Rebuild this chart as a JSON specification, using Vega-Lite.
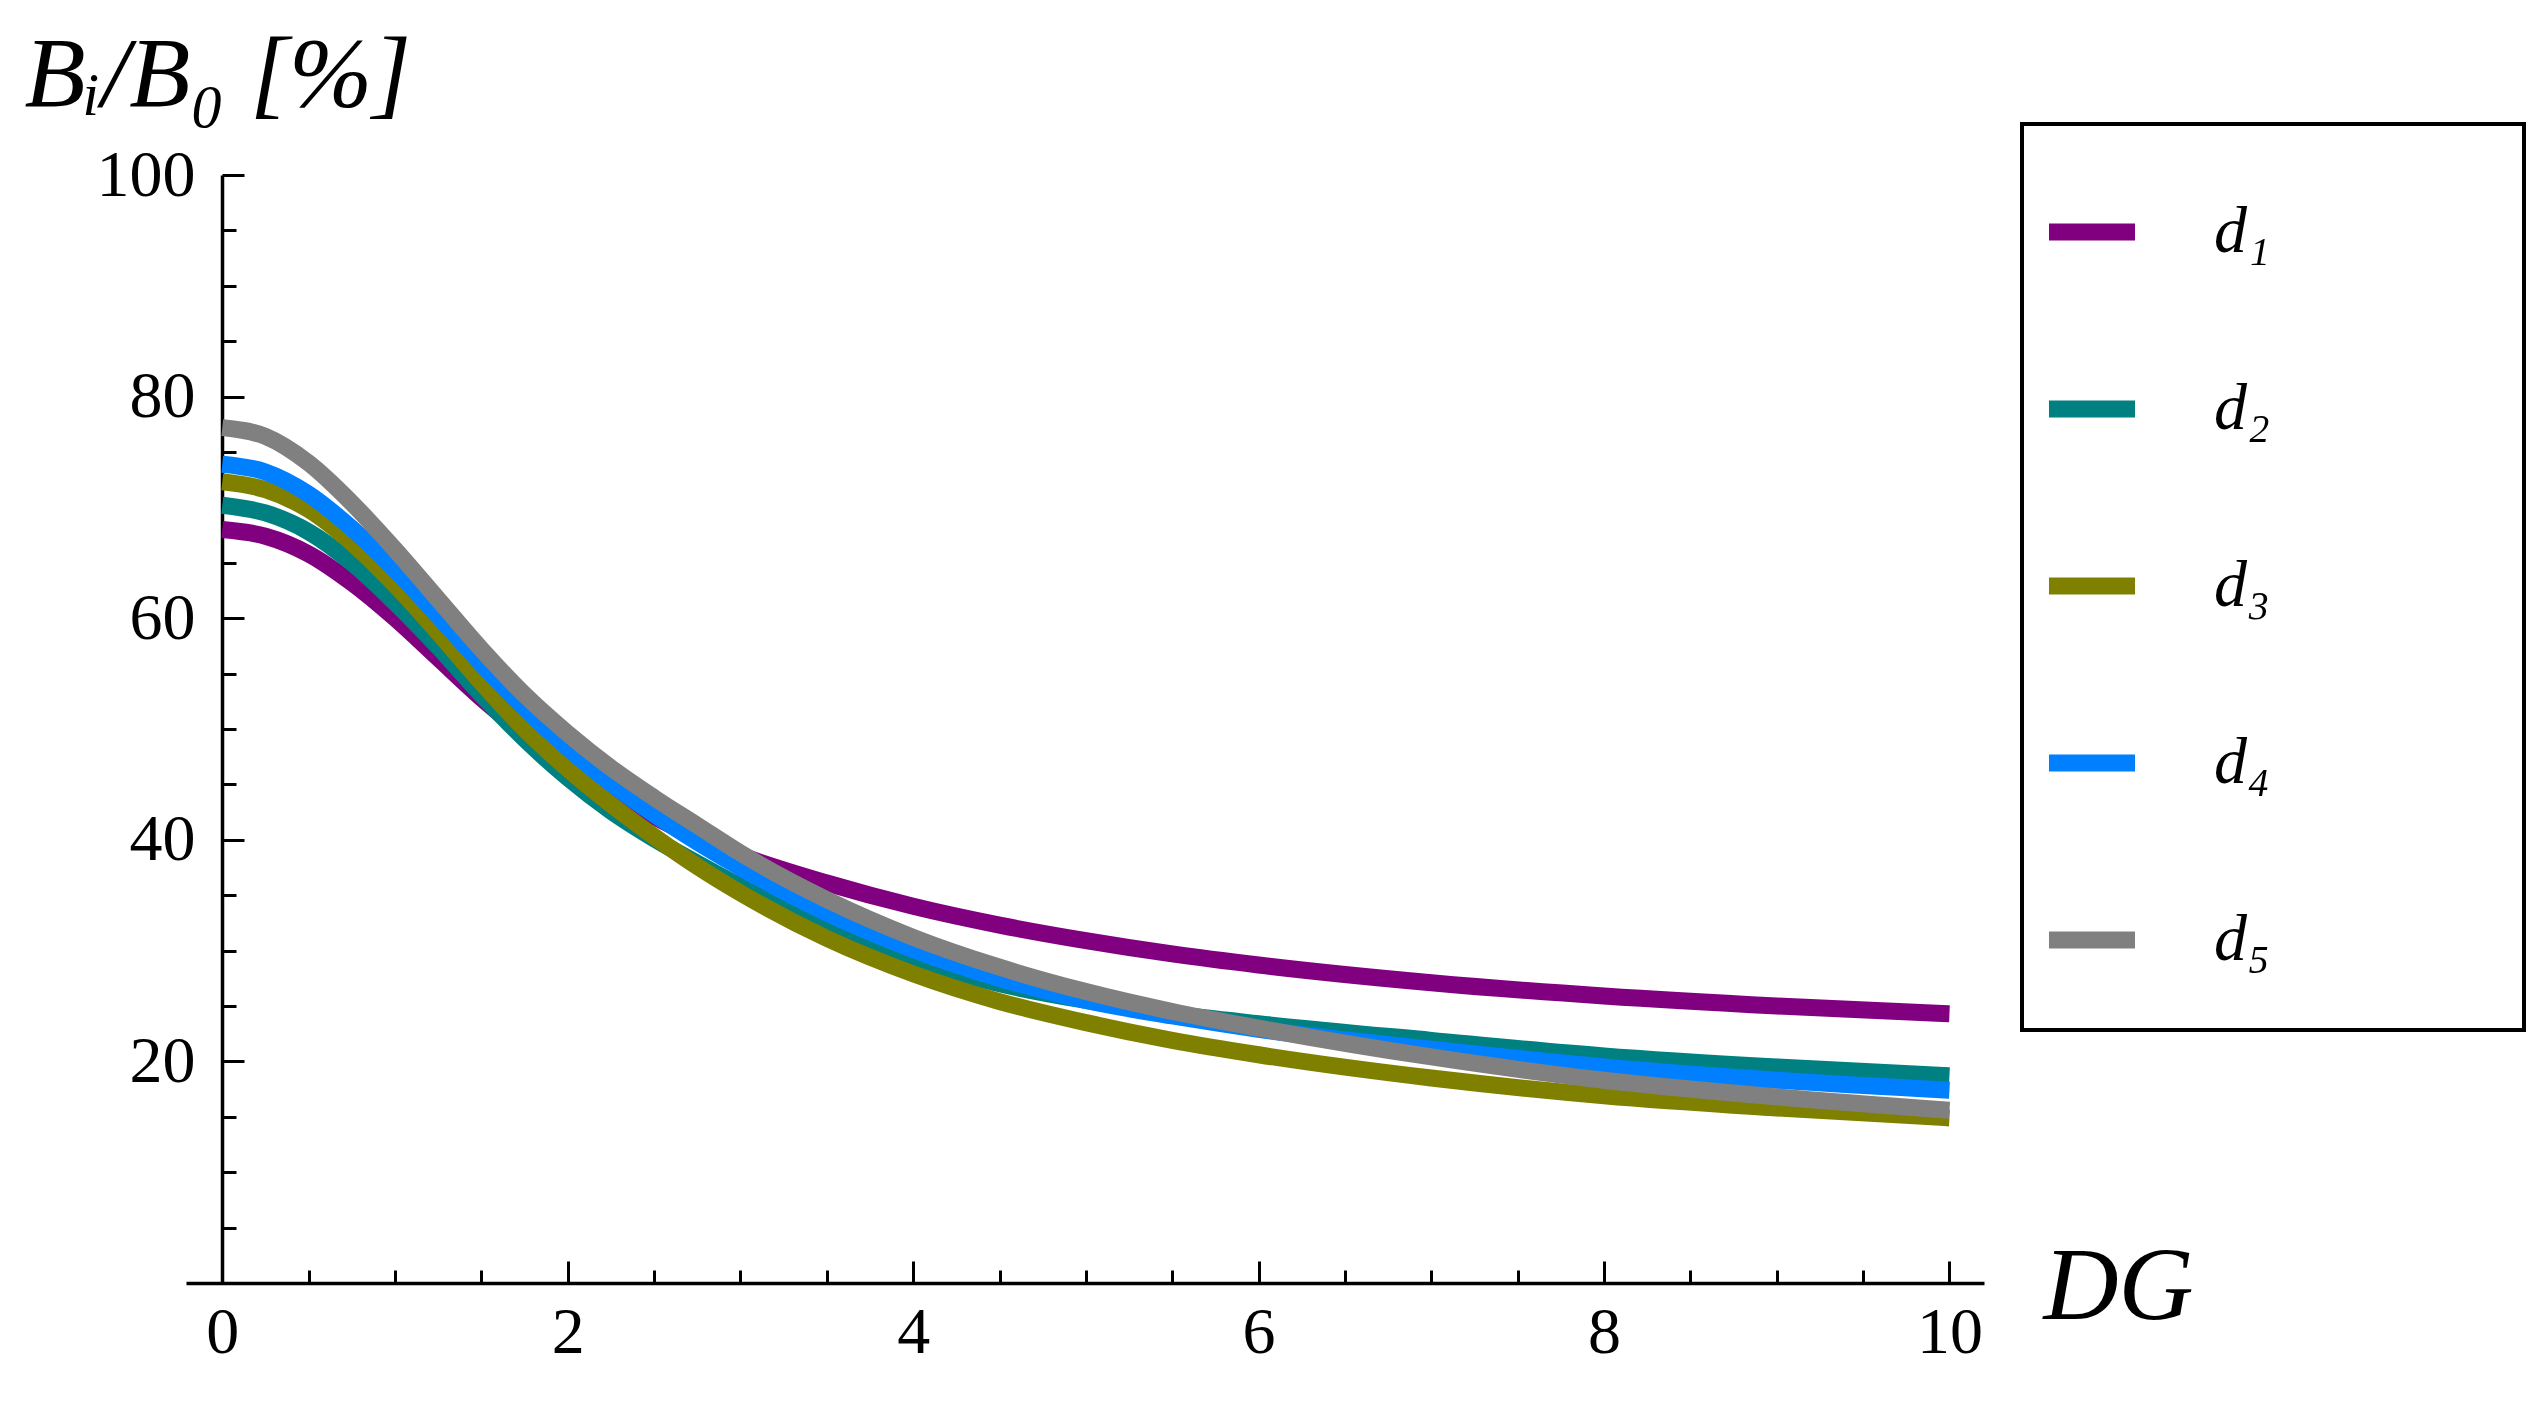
{
  "$schema": "https://vega.github.io/schema/vega-lite/v6.json",
  "width": 1798,
  "height": 1108,
  "autosize": {"type": "none"},
  "padding": {"left": 186, "top": 175, "right": 562, "bottom": 118},
  "background": "white",
  "config": {"view": {"stroke": null}, "font": "Liberation Serif"},
  "data": {
    "values": [
      {"DG": 0, "d": "d₁", "B": 68.0}, {"DG": 0.25, "d": "d₁", "B": 67.4}, {"DG": 0.5, "d": "d₁", "B": 65.8},
      {"DG": 0.75, "d": "d₁", "B": 63.2}, {"DG": 1, "d": "d₁", "B": 60.0}, {"DG": 1.25, "d": "d₁", "B": 56.4},
      {"DG": 1.5, "d": "d₁", "B": 52.8}, {"DG": 1.75, "d": "d₁", "B": 49.6}, {"DG": 2, "d": "d₁", "B": 46.8},
      {"DG": 2.25, "d": "d₁", "B": 44.4}, {"DG": 2.5, "d": "d₁", "B": 42.1}, {"DG": 2.75, "d": "d₁", "B": 40.2},
      {"DG": 3, "d": "d₁", "B": 38.6}, {"DG": 3.5, "d": "d₁", "B": 36.1}, {"DG": 4, "d": "d₁", "B": 34.0},
      {"DG": 4.5, "d": "d₁", "B": 32.3}, {"DG": 5, "d": "d₁", "B": 30.9}, {"DG": 5.5, "d": "d₁", "B": 29.7},
      {"DG": 6, "d": "d₁", "B": 28.7}, {"DG": 7, "d": "d₁", "B": 27.1}, {"DG": 8, "d": "d₁", "B": 25.9},
      {"DG": 9, "d": "d₁", "B": 25.0}, {"DG": 10, "d": "d₁", "B": 24.3},

      {"DG": 0, "d": "d₂", "B": 70.2}, {"DG": 0.25, "d": "d₂", "B": 69.5}, {"DG": 0.5, "d": "d₂", "B": 67.8},
      {"DG": 0.75, "d": "d₂", "B": 65.0}, {"DG": 1, "d": "d₂", "B": 61.4}, {"DG": 1.25, "d": "d₂", "B": 57.4},
      {"DG": 1.5, "d": "d₂", "B": 53.1}, {"DG": 1.75, "d": "d₂", "B": 49.1}, {"DG": 2, "d": "d₂", "B": 45.6},
      {"DG": 2.25, "d": "d₂", "B": 42.6}, {"DG": 2.5, "d": "d₂", "B": 40.1}, {"DG": 2.75, "d": "d₂", "B": 37.9},
      {"DG": 3, "d": "d₂", "B": 35.8}, {"DG": 3.5, "d": "d₂", "B": 32.1}, {"DG": 4, "d": "d₂", "B": 29.2},
      {"DG": 4.5, "d": "d₂", "B": 27.0}, {"DG": 5, "d": "d₂", "B": 25.5}, {"DG": 5.5, "d": "d₂", "B": 24.3},
      {"DG": 6, "d": "d₂", "B": 23.4}, {"DG": 7, "d": "d₂", "B": 21.9}, {"DG": 8, "d": "d₂", "B": 20.5},
      {"DG": 9, "d": "d₂", "B": 19.5}, {"DG": 10, "d": "d₂", "B": 18.7},

      {"DG": 0, "d": "d₃", "B": 72.3}, {"DG": 0.25, "d": "d₃", "B": 71.6}, {"DG": 0.5, "d": "d₃", "B": 69.8},
      {"DG": 0.75, "d": "d₃", "B": 66.8}, {"DG": 1, "d": "d₃", "B": 63.0}, {"DG": 1.25, "d": "d₃", "B": 58.7},
      {"DG": 1.5, "d": "d₃", "B": 54.2}, {"DG": 1.75, "d": "d₃", "B": 50.0}, {"DG": 2, "d": "d₃", "B": 46.4},
      {"DG": 2.25, "d": "d₃", "B": 43.2}, {"DG": 2.5, "d": "d₃", "B": 40.3}, {"DG": 2.75, "d": "d₃", "B": 37.6},
      {"DG": 3, "d": "d₃", "B": 35.2}, {"DG": 3.5, "d": "d₃", "B": 31.1}, {"DG": 4, "d": "d₃", "B": 27.9},
      {"DG": 4.5, "d": "d₃", "B": 25.4}, {"DG": 5, "d": "d₃", "B": 23.5}, {"DG": 5.5, "d": "d₃", "B": 21.9},
      {"DG": 6, "d": "d₃", "B": 20.6}, {"DG": 7, "d": "d₃", "B": 18.5}, {"DG": 8, "d": "d₃", "B": 16.9},
      {"DG": 9, "d": "d₃", "B": 15.8}, {"DG": 10, "d": "d₃", "B": 14.9},

      {"DG": 0, "d": "d₄", "B": 73.9}, {"DG": 0.25, "d": "d₄", "B": 73.2}, {"DG": 0.5, "d": "d₄", "B": 71.2},
      {"DG": 0.75, "d": "d₄", "B": 68.1}, {"DG": 1, "d": "d₄", "B": 64.4}, {"DG": 1.25, "d": "d₄", "B": 60.2},
      {"DG": 1.5, "d": "d₄", "B": 55.9}, {"DG": 1.75, "d": "d₄", "B": 51.9}, {"DG": 2, "d": "d₄", "B": 48.3},
      {"DG": 2.25, "d": "d₄", "B": 45.1}, {"DG": 2.5, "d": "d₄", "B": 42.3}, {"DG": 2.75, "d": "d₄", "B": 39.8},
      {"DG": 3, "d": "d₄", "B": 37.5}, {"DG": 3.5, "d": "d₄", "B": 33.4}, {"DG": 4, "d": "d₄", "B": 30.1},
      {"DG": 4.5, "d": "d₄", "B": 27.5}, {"DG": 5, "d": "d₄", "B": 25.5}, {"DG": 5.5, "d": "d₄", "B": 24.1},
      {"DG": 6, "d": "d₄", "B": 22.9}, {"DG": 7, "d": "d₄", "B": 21.1}, {"DG": 8, "d": "d₄", "B": 19.5},
      {"DG": 9, "d": "d₄", "B": 18.3}, {"DG": 10, "d": "d₄", "B": 17.4},

      {"DG": 0, "d": "d₅", "B": 77.2}, {"DG": 0.25, "d": "d₅", "B": 76.4}, {"DG": 0.5, "d": "d₅", "B": 74.0},
      {"DG": 0.75, "d": "d₅", "B": 70.4}, {"DG": 1, "d": "d₅", "B": 66.2}, {"DG": 1.25, "d": "d₅", "B": 61.7},
      {"DG": 1.5, "d": "d₅", "B": 57.2}, {"DG": 1.75, "d": "d₅", "B": 53.1}, {"DG": 2, "d": "d₅", "B": 49.6},
      {"DG": 2.25, "d": "d₅", "B": 46.5}, {"DG": 2.5, "d": "d₅", "B": 43.8}, {"DG": 2.75, "d": "d₅", "B": 41.3},
      {"DG": 3, "d": "d₅", "B": 38.8}, {"DG": 3.5, "d": "d₅", "B": 34.6}, {"DG": 4, "d": "d₅", "B": 31.2},
      {"DG": 4.5, "d": "d₅", "B": 28.5}, {"DG": 5, "d": "d₅", "B": 26.3}, {"DG": 5.5, "d": "d₅", "B": 24.5},
      {"DG": 6, "d": "d₅", "B": 23.0}, {"DG": 7, "d": "d₅", "B": 20.4}, {"DG": 8, "d": "d₅", "B": 18.3},
      {"DG": 9, "d": "d₅", "B": 16.8}, {"DG": 10, "d": "d₅", "B": 15.6}
    ]
  },
  "mark": {"type": "line", "interpolate": "monotone", "strokeWidth": 17, "strokeCap": "butt", "clip": false},
  "encoding": {
    "x": {
      "field": "DG",
      "type": "quantitative",
      "scale": {"domain": [-0.21, 10.2], "nice": false, "zero": false},
      "axis": {
        "title": "DG",
        "titleFont": "Liberation Serif",
        "titleFontStyle": "italic",
        "titleFontWeight": "normal",
        "titleFontSize": 104,
        "titleColor": "black",
        "titleX": 1857,
        "titleY": 35,
        "titleAlign": "left",
        "titleBaseline": "alphabetic",
        "values": [0, 0.5, 1, 1.5, 2, 2.5, 3, 3.5, 4, 4.5, 5, 5.5, 6, 6.5, 7, 7.5, 8, 8.5, 9, 9.5, 10],
        "labelExpr": "datum.value % 2 === 0 ? format(datum.value, 'd') : ''",
        "labelFont": "Liberation Serif",
        "labelFontSize": 66,
        "labelColor": "black",
        "labelPadding": 39,
        "labelBaseline": "top",
        "labelFlush": false,
        "labelOverlap": false,
        "domainColor": "black",
        "domainWidth": 3.5,
        "tickColor": "black",
        "tickWidth": 3,
        "tickSize": {"condition": {"test": "datum.value % 2 === 0", "value": -22}, "value": -13},
        "grid": false
      }
    },
    "y": {
      "field": "B",
      "type": "quantitative",
      "scale": {"domain": [0, 100], "nice": false},
      "axis": {
        "title": "Bᵢ/B₀ [%]",
        "titleFont": "Liberation Serif, DejaVu Serif",
        "titleFontStyle": "italic",
        "titleFontWeight": "normal",
        "titleFontSize": 100,
        "titleColor": "black",
        "titleAngle": 0,
        "titleAlign": "left",
        "titleBaseline": "alphabetic",
        "titleX": -198,
        "titleY": -70,
        "offset": -36,
        "values": [5, 10, 15, 20, 25, 30, 35, 40, 45, 50, 55, 60, 65, 70, 75, 80, 85, 90, 95, 100],
        "labelExpr": "datum.value % 20 === 0 ? datum.label : ''",
        "labelFont": "Liberation Serif",
        "labelFontSize": 66,
        "labelColor": "black",
        "labelPadding": 49,
        "labelBaseline": "middle",
        "labelFlush": false,
        "labelOverlap": false,
        "domainColor": "black",
        "domainWidth": 3.5,
        "tickColor": "black",
        "tickWidth": 3,
        "tickSize": {"condition": {"test": "datum.value % 20 === 0", "value": -22}, "value": -14},
        "grid": false
      }
    },
    "color": {
      "field": "d",
      "type": "nominal",
      "scale": {
        "domain": ["d₁", "d₂", "d₃", "d₄", "d₅"],
        "range": ["#800080", "#008080", "#808000", "#0080ff", "#808080"]
      },
      "legend": {
        "title": null,
        "orient": "none",
        "legendX": 1836,
        "legendY": -51,
        "direction": "vertical",
        "symbolType": "stroke",
        "symbolSize": 7400,
        "symbolStrokeWidth": 17,
        "symbolOffset": -38,
        "labelFont": "Liberation Serif",
        "labelFontStyle": "italic",
        "labelFontSize": 66,
        "labelColor": "black",
        "labelOffset": 70,
        "labelLimit": 800,
        "labelExpr": "datum.label + '\u2002\u2002\u2002\u2002\u2002\u2002\u200b'",
        "rowPadding": 91,
        "padding": 56,
        "strokeColor": "black",
        "fillColor": "white",
        "encode": {"legend": {"update": {"strokeWidth": {"value": 4}}}}
      }
    }
  }
}
